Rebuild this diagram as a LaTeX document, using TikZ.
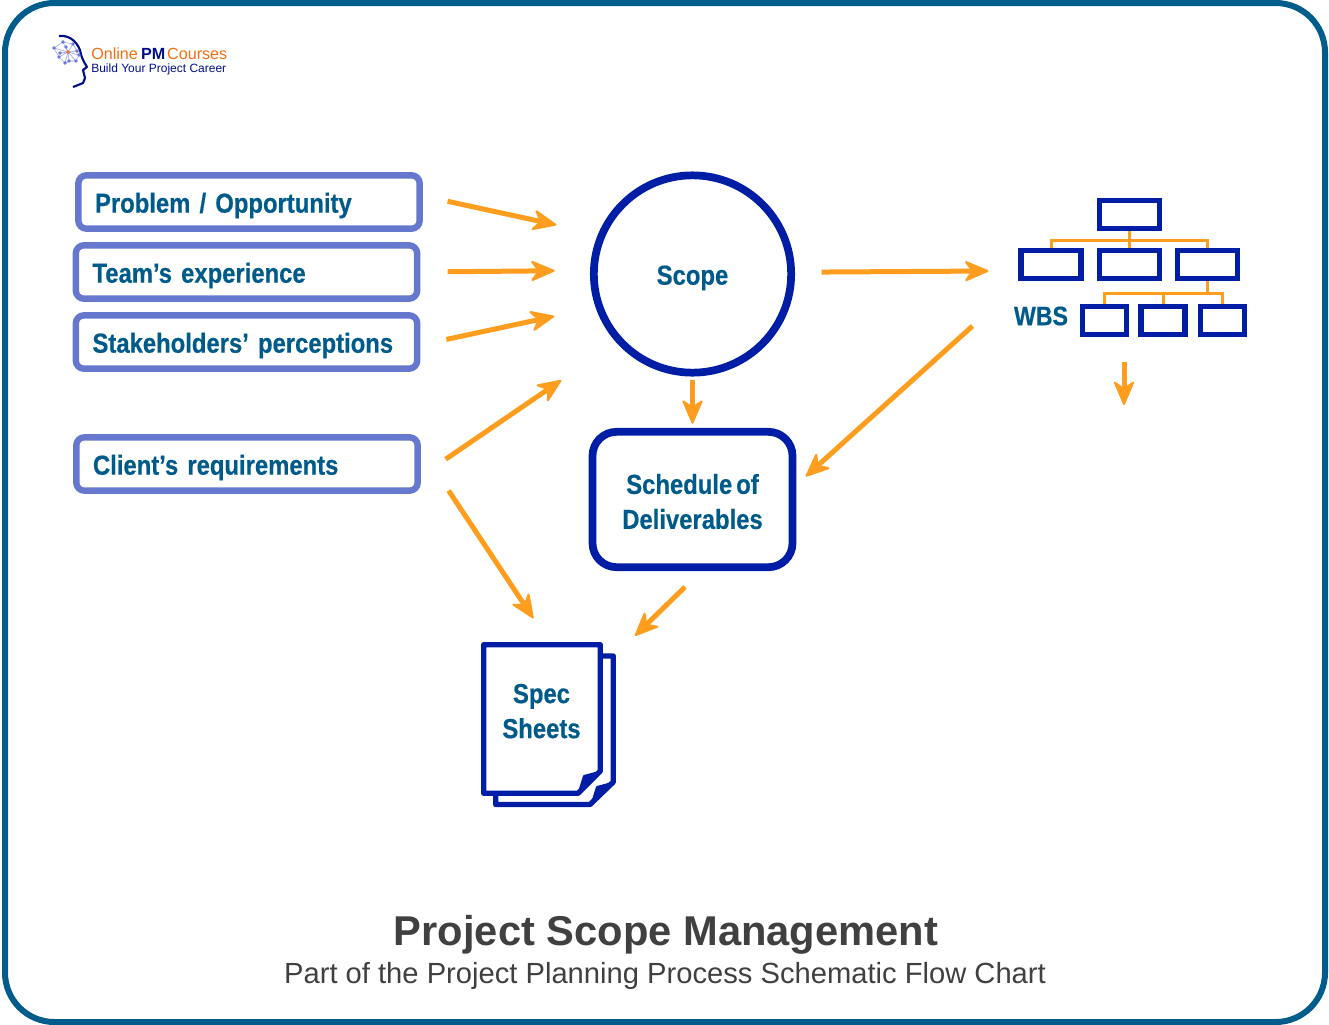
\documentclass[tikz,border=0pt]{standalone}
\usepackage{fontspec}
\usepackage{xcolor}
\setmainfont{Liberation Sans}
\newfontfamily\boxfont[FakeStretch=0.868,WordSpace=0.6,BoldFeatures={FakeBold=0.5}]{Liberation Sans}
\usetikzlibrary{arrows.meta,positioning}
\definecolor{framecolor}{RGB}{0,92,138}
\definecolor{inputcolor}{RGB}{102,120,206}
\definecolor{darkblue}{RGB}{0,30,165}
\definecolor{labelcolor}{RGB}{0,90,138}
\definecolor{flowcolor}{RGB}{255,157,30}
\definecolor{titlecolor}{RGB}{64,64,64}
\definecolor{logoorange}{RGB}{245,110,20}
\definecolor{logoblue}{RGB}{0,15,135}
\definecolor{logonet}{RGB}{105,120,220}
\begin{document}
\begin{tikzpicture}[x=0.75pt,y=-0.75pt,
  label/.style={font=\boxfont\bfseries\fontsize{20.6pt}{26.25pt}\selectfont,text=labelcolor,align=center},
  inputbox/.style={label,draw=inputcolor,line width=4.8pt,rounded corners=6pt,align=left,inner ysep=0pt,inner xsep=12.5pt,text width=231pt,text height=16pt,text depth=0pt,minimum height=40pt},
  wbsbox/.style={draw=darkblue,line width=4pt,inner sep=0pt,minimum width=#1,minimum height=20.8pt},
  wbsbox/.default=44.8pt,
  flow/.style={draw=flowcolor,line width=3.75pt,-{Stealth[length=20pt,width=17pt,inset=6pt,line width=1.5pt,round]}},
  tree/.style={draw=flowcolor,line width=2.25pt},
  sheet/.style={draw=darkblue,fill=white,line width=4pt,line join=round},
  flap/.style={draw=darkblue,fill=darkblue,line width=1.5pt,line join=round}]
  \useasboundingbox (0,0) rectangle (1329,1025);
  \draw[framecolor,line width=4.5pt,rounded corners=37pt] (5,3) rectangle (1325,1022);

  \draw[logoblue,line width=1.6pt,line join=round] (59,36) .. controls (68,35) and (76,40) .. (80,50)
    .. controls (81,57) and (84,62) .. (87,67) -- (83,70) -- (85,78) -- (83,83) -- (73,87);
  \draw[logonet!65,line width=0.5pt] (54,48) -- (63,42) -- (73,44) -- (77,51) -- (79,55) -- (76,61) -- (69,61) -- (65,63) -- (59,57) -- cycle;
  \foreach \a/\b in {54/48,63/42,73/44,77/51,79/55,76/61,69/61,65/63,59/57,60/53,66/47}
    {\draw[logonet!65,line width=0.5pt] (\a,\b) -- (68,52);
     \fill[logonet] (\a,\b) circle (1.8);}
  \fill[logoorange] (68,52) circle (1.8);
  \node[anchor=base west,inner sep=0pt,font=\fontsize{12.1pt}{14pt}\selectfont,text=logoorange] (logoname) at (91,59)
    {Online\hspace{2.4pt}\textcolor{logoblue}{\textbf{PM}}\hspace{1.4pt}Courses};
  \node[anchor=base west,inner sep=0pt,font=\fontsize{9pt}{10pt}\selectfont,text=logoblue] (logotag) at (91,72.5) {Build Your Project Career};

  \node[inputbox] (problem) at (249,202) {Problem / Opportunity};
  \node[inputbox] (team) at (246.5,272) {Team’s experience};
  \node[inputbox] (stakeholders) at (246.5,342) {Stakeholders’ perceptions};
  \node[inputbox] (client) at (247,464) {Client’s requirements};

  \node[label,circle,draw=darkblue,line width=5.8pt,inner sep=0pt,minimum size=148pt,text height=16pt,text depth=0pt] (scope) at (692.5,274) {Scope};
  \node[label,draw=darkblue,line width=5.8pt,rounded corners=18pt,inner sep=0pt,minimum width=150pt,minimum height=101.5pt] (schedule) at (692.5,499.5) {\rule{0pt}{18pt}Schedule of\\Deliverables};

  \draw[sheet] (495.7,656) -- (613.3,656) -- (613.3,782) -- (590,804.5) -- (495.7,804.5) -- cycle;
  \draw[flap] (612,783) -- (597,787) -- (592,803) -- cycle;
  \draw[sheet] (483.7,644.7) -- (600.3,644.7) -- (600.3,771) -- (578,793.3) -- (483.7,793.3) -- cycle;
  \draw[flap] (599,772) -- (584,776) -- (579,792) -- cycle;
  \node[label,inner sep=0pt,minimum width=87.5pt,minimum height=111.5pt] (spec) at (541.5,719) {Spec\\Sheets\rule[-12pt]{0pt}{12pt}};

  \node[wbsbox] (wbstop) at (1129.5,214.5) {};
  \node[wbsbox] (wbsleft) at (1051,264.5) {};
  \node[wbsbox] (wbsmid) at (1129.5,264.5) {};
  \node[wbsbox] (wbsright) at (1207.5,264.5) {};
  \node[wbsbox=32.8pt] (wbsa) at (1104.5,320.5) {};
  \node[wbsbox=32.8pt] (wbsb) at (1163,320.5) {};
  \node[wbsbox=32.8pt] (wbsc) at (1222.5,320.5) {};
  \node[label,inner sep=0pt,font=\boxfont\bfseries\fontsize{20pt}{22pt}\selectfont] (wbs) at (1041,316) {WBS};
  \coordinate (barone) at (1129.5,240);
  \coordinate (bartwo) at (1163,293);
  \coordinate (wbsend) at (1124,405);

  \draw[tree] (wbstop.south) -- (wbsmid.north);
  \draw[tree] (wbsleft.north) |- (barone) -| (wbsright.north);
  \draw[tree] (wbsright.south) -- (wbsright.south |- bartwo);
  \draw[tree] (wbsa.north) |- (bartwo) -| (wbsc.north);
  \draw[tree] (bartwo) -- (wbsb.north);

  \draw[flow,shorten <=19pt,shorten >=32pt] (problem.2.66) -- (scope.157.6);
  \draw[flow,shorten <=20.5pt,shorten >=26.5pt] (team.0.3) -- (scope.178.3);
  \draw[flow,shorten <=19.9pt,shorten >=31.6pt] (stakeholders.-1.9) -- (scope.199.1);
  \draw[flow,shorten <=22.5pt,shorten >=50pt] (client.-4.2) -- (scope.222.6);
  \draw[flow,shorten <=37.6pt,shorten >=23.5pt] (client.5.5) -- (spec.83.3);
  \draw[flow,shorten <=17.1pt,shorten >=36.5pt] (schedule.277.6) -- (spec.40.5);
  \draw[flow,shorten <=2.25pt,shorten >=3.2pt] (scope.south) -- (schedule.north);
  \draw[flow,shorten <=20pt,shorten >=22.5pt] (scope.1.7) -- (wbsleft.191.5);
  \draw[flow,shorten <=50.4pt,shorten >=9.5pt] (wbsleft.210.5) -- (schedule.8.2);
  \draw[flow,shorten <=18.75pt] (wbsend |- wbsa.south) -- (wbsend);

  \node[anchor=base,inner sep=0pt,font=\bfseries\fontsize{31.25pt}{36pt}\selectfont,text=titlecolor] (title) at (666,945) {Project Scope Management};
  \node[anchor=base,inner sep=0pt,font=\fontsize{21.87pt}{26pt}\selectfont,text=titlecolor] (subtitle) at (665,983) {Part of the Project Planning Process Schematic Flow Chart};
\end{tikzpicture}
\end{document}
